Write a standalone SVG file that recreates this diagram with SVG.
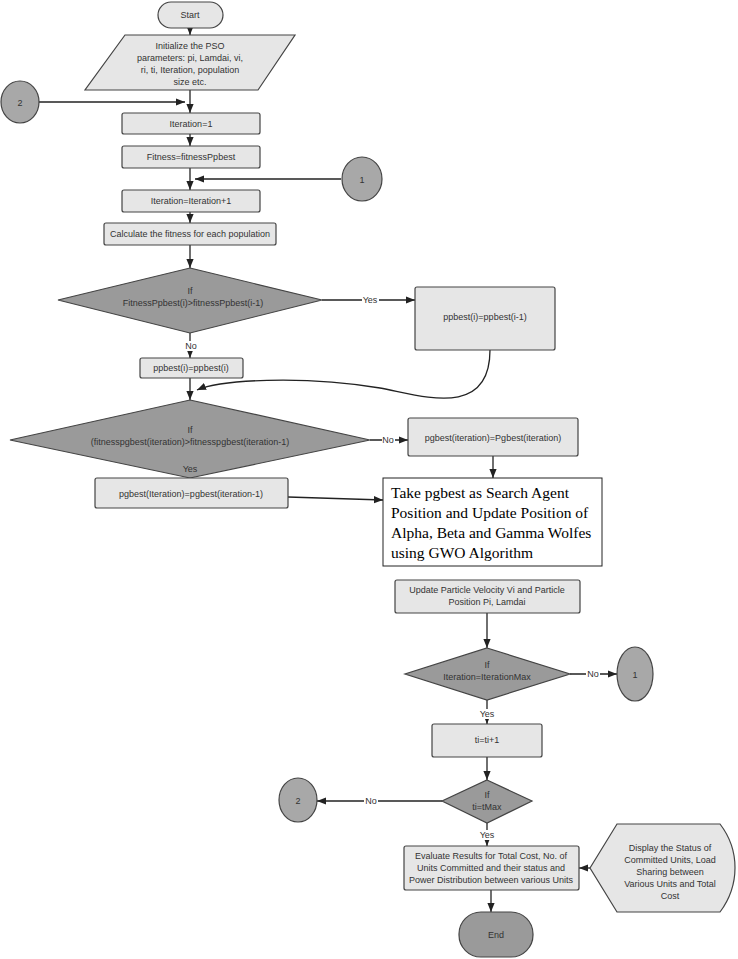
<svg xmlns="http://www.w3.org/2000/svg" width="738" height="959" viewBox="0 0 738 959">
<style>
text{font-family:"Liberation Sans",Arial,sans-serif;font-size:9px;fill:#333;text-anchor:middle}
.b{fill:#e6e6e6;stroke:#444;stroke-width:1.2}
.d{fill:#9a9a9a;stroke:#444;stroke-width:1.2}
.c{fill:#a8a8a8;stroke:#444;stroke-width:1.2}
.l{fill:none;stroke:#222;stroke-width:1.3;marker-end:url(#a)}
.w{fill:#fff}
.s{font-family:"Liberation Serif","Times New Roman",serif;font-size:15.5px;fill:#000;text-anchor:start}
</style>
<defs><marker id="a" viewBox="0 0 10 10" refX="10" refY="5" markerWidth="7" markerHeight="7" orient="auto"><path d="M0,1L10,5L0,9z" fill="#222"/></marker></defs>
<rect width="738" height="959" fill="#fff"/>
<g id="connectors">
<path class="l" d="M190,28V35"/>
<path class="l" d="M190,90V113"/>
<path class="l" d="M39,102H185"/>
<path class="l" d="M190,134V146"/>
<path class="l" d="M190,168V190"/>
<path class="l" d="M341,179H195"/>
<path class="l" d="M190,212V223"/>
<path class="l" d="M190,245V268"/>
<path class="l" d="M322,300H415"/>
<path class="l" d="M190,333V358"/>
<path class="l" d="M190,378V400"/>
<path class="l" d="M490,350C490,420 420,395 380,388C300,375 220,380 197,390"/>
<path class="l" d="M370,440H408"/>
<path class="l" d="M493,456V478"/>
<path class="l" d="M288,497L383,500"/>
<path class="l" d="M487,613V648"/>
<path class="l" d="M570,674H617"/>
<path class="l" d="M487,700V724"/>
<path class="l" d="M487,757V780"/>
<path class="l" d="M442,801H317"/>
<path class="l" d="M487,823V846"/>
<path class="l" d="M491,890V912"/>
<path class="l" d="M590,868H579"/>
</g>
<g id="start"><rect x="158" y="2" width="65" height="26" rx="13" fill="#e6e6e6" stroke="#444" stroke-width="1.2"/><text x="190" y="18">Start</text></g>
<g id="init"><polygon class="b" points="125,35 295,35 258,90 85,90"/><text x="190" y="49">Initialize the PSO</text><text x="190" y="61">parameters: pi, Lamdai, vi,</text><text x="190" y="73">ri, ti, Iteration, population</text><text x="190" y="85">size etc.</text></g>
<g id="c2a"><ellipse class="c" cx="20" cy="102" rx="19" ry="21"/><text x="20" y="106">2</text></g>
<g id="it1"><rect class="b" x="122" y="113" width="138" height="21" rx="2"/><text x="191" y="127">Iteration=1</text></g>
<g id="fit"><rect class="b" x="122" y="146" width="138" height="22" rx="2"/><text x="191" y="160">Fitness=fitnessPpbest</text></g>
<g id="c1a"><ellipse class="c" cx="362" cy="179" rx="20" ry="22"/><text x="362" y="183">1</text></g>
<g id="itinc"><rect class="b" x="122" y="190" width="138" height="22" rx="2"/><text x="191" y="204">Iteration=Iteration+1</text></g>
<g id="calc"><rect class="b" x="104" y="223" width="172" height="22" rx="2"/><text x="190" y="237">Calculate the fitness for each population</text></g>
<g id="d1"><polygon class="d" points="190,268 322,300 190,333 58,300"/><text x="190" y="294">If</text><text x="193" y="306">FitnessPpbest(i)&gt;fitnessPpbest(i-1)</text></g>
<rect class="w" x="362" y="295" width="17" height="10"/><text x="370" y="303">Yes</text>
<g id="pp1"><rect class="b" x="415" y="287" width="140" height="63" rx="2"/><text x="485" y="320">ppbest(i)=ppbest(i-1)</text></g>
<rect class="w" x="184" y="341" width="13" height="10"/><text x="191" y="349">No</text>
<g id="pp2"><rect class="b" x="140" y="358" width="103" height="20" rx="2"/><text x="191" y="371">ppbest(i)=ppbest(i)</text></g>
<g id="d2"><polygon class="d" points="190,400 370,440 190,478 10,440"/><text x="190" y="433">If</text><text x="190" y="445">(fitnesspgbest(iteration)&gt;fitnesspgbest(iteration-1)</text></g>
<rect class="w" x="382" y="435" width="13" height="10"/><text x="388" y="443">No</text>
<g id="pg1"><rect class="b" x="408" y="418" width="170" height="38" rx="2"/><text x="493" y="441">pgbest(iteration)=Pgbest(iteration)</text></g>
<text x="190" y="472">Yes</text>
<g id="pg2"><rect class="b" x="95" y="478" width="193" height="30" rx="2"/><text x="191" y="497">pgbest(Iteration)=pgbest(iteration-1)</text></g>
<g id="gwo"><rect x="383" y="478" width="219" height="88" fill="#fff" stroke="#222" stroke-width="1"/><text class="s" x="391" y="498">Take pgbest as Search Agent</text><text class="s" x="391" y="518">Position and Update Position of</text><text class="s" x="391" y="538">Alpha, Beta and Gamma Wolfes</text><text class="s" x="391" y="558">using GWO Algorithm</text></g>
<g id="upd"><rect class="b" x="395" y="580" width="185" height="33" rx="2"/><text x="487" y="593">Update Particle Velocity Vi and Particle</text><text x="487" y="605">Position Pi, Lamdai</text></g>
<g id="d3"><polygon class="d" points="487,648 570,674 487,700 405,674"/><text x="487" y="668">If</text><text x="487" y="680">Iteration=IterationMax</text></g>
<rect class="w" x="586" y="669" width="14" height="10"/><text x="593" y="677">No</text>
<g id="c1b"><ellipse class="c" cx="635" cy="674" rx="18" ry="27"/><text x="635" y="678">1</text></g>
<rect class="w" x="479" y="709" width="17" height="10"/><text x="487" y="717">Yes</text>
<g id="ti"><rect class="b" x="432" y="724" width="110" height="33" rx="2"/><text x="487" y="743">ti=ti+1</text></g>
<g id="d4"><polygon class="d" points="487,780 532,801 487,823 442,801"/><text x="487" y="798">If</text><text x="487" y="810">ti=tMax</text></g>
<rect class="w" x="364" y="796" width="14" height="10"/><text x="371" y="804">No</text>
<g id="c2b"><ellipse class="c" cx="298" cy="800" rx="19" ry="22"/><text x="298" y="804">2</text></g>
<rect class="w" x="479" y="830" width="17" height="10"/><text x="487" y="838">Yes</text>
<g id="eval"><rect class="b" x="404" y="846" width="175" height="44" rx="2"/><text x="491" y="859">Evaluate Results for Total Cost, No. of</text><text x="491" y="871">Units Committed and their status and</text><text x="491" y="883">Power Distribution between various Units</text></g>
<g id="disp"><path class="b" d="M590,868L617,824H720C740,850 740,885 720,912H617Z"/><text x="670" y="851">Display the Status of</text><text x="670" y="863">Committed Units, Load</text><text x="670" y="875">Sharing between</text><text x="670" y="887">Various Units and Total</text><text x="670" y="899">Cost</text></g>
<g id="end"><rect class="d" x="459" y="912" width="74" height="45" rx="22"/><text x="496" y="938">End</text></g>
</svg>
